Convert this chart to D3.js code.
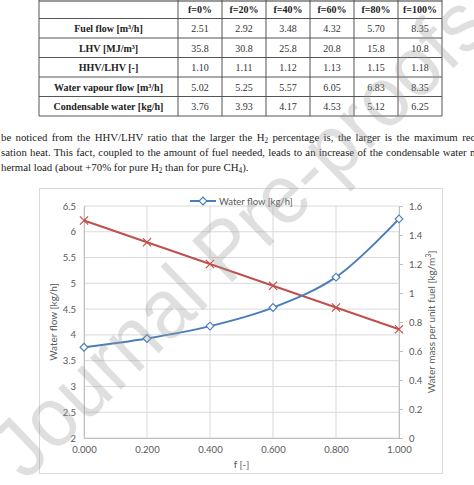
<!DOCTYPE html>
<html lang="en">
<head>
<meta charset="UTF-8">
<title>Water flow</title>
<script src="https://cdnjs.cloudflare.com/ajax/libs/d3/7.9.0/d3.min.js"></script>
<style>
  body { margin: 0; background: #fff; }
</style>
</head>
<body>
<svg id="fig" width="474" height="485"></svg>
<script>
// table data
const colLabels = ["f=0%", "f=20%", "f=40%", "f=60%", "f=80%", "f=100%"];
const rowLabels = ["Fuel flow [m³/h]", "LHV [MJ/m³]", "HHV/LHV [-]", "Water vapour flow [m³/h]", "Condensable water [kg/h]"];
const fuelFlow = [2.51, 2.92, 3.48, 4.32, 5.70, 8.35];
const lhv = [35.8, 30.8, 25.8, 20.8, 15.8, 10.8];
const hhvLhv = [1.10, 1.11, 1.12, 1.13, 1.15, 1.18];
const vapourFlow = [5.02, 5.25, 5.57, 6.05, 6.83, 8.35];
const condWater = [3.76, 3.93, 4.17, 4.53, 5.12, 6.25];

// chart data
const fValues = [0, 0.2, 0.4, 0.6, 0.8, 1.0];
const waterFlow = [3.76, 3.93, 4.17, 4.53, 5.12, 6.25];
const waterPerFuel = [1.50, 1.35, 1.20, 1.05, 0.90, 0.75];
const leftTicks = [2, 2.5, 3, 3.5, 4, 4.5, 5, 5.5, 6, 6.5];
const rightTicks = [0, 0.2, 0.4, 0.6, 0.8, 1.0, 1.2, 1.4, 1.6];

const svg = d3.select("#fig");
const serif = "'Liberation Serif', 'Times New Roman', serif";
const sans = "Lato, 'Open Sans', sans-serif";

// ---------- table ----------
const tbl = svg.append("g");
const rows = [null, fuelFlow, lhv, hhvLhv, vapourFlow, condWater];
const rowFmt = [null, ".2f", ".1f", ".2f", ".2f", ".2f"];
const ty = d3.scaleBand().domain(d3.range(rows.length)).range([-1, 116]);
const tx = d3.scaleBand().domain(d3.range(colLabels.length)).range([178, 442]);
const tLeft = 39;

tbl.append("line").attr("x1", tLeft).attr("x2", 442).attr("y1", 0.5).attr("y2", 0.5)
  .attr("stroke", "#999").attr("stroke-width", 3);

rows.forEach(function (r, i) {
  tbl.append("line")
    .attr("x1", tLeft).attr("x2", 442)
    .attr("y1", ty(i) + ty.bandwidth()).attr("y2", ty(i) + ty.bandwidth())
    .attr("stroke", "#555").attr("stroke-width", 1);
});
[tLeft].concat(d3.range(colLabels.length).map(d => tx(d)), [442]).forEach(function (x) {
  tbl.append("line").attr("x1", x).attr("x2", x).attr("y1", 0).attr("y2", 116)
    .attr("stroke", "#555").attr("stroke-width", 1);
});

tbl.selectAll("text.hdr").data(colLabels).enter().append("text")
  .attr("x", (d, i) => tx(i) + tx.bandwidth() / 2)
  .attr("y", ty(0) + ty.bandwidth() / 2 + 4)
  .attr("text-anchor", "middle").attr("font-family", serif)
  .attr("font-size", 10).attr("font-weight", "bold").attr("fill", "#222")
  .text(d => d);

rowLabels.forEach(function (lab, k) {
  const i = k + 1;
  tbl.append("text")
    .attr("x", (tLeft + 178) / 2).attr("y", ty(i) + ty.bandwidth() / 2 + 4)
    .attr("text-anchor", "middle").attr("font-family", serif)
    .attr("font-size", 10).attr("font-weight", "bold").attr("fill", "#222")
    .text(lab);
  tbl.selectAll(null).data(rows[i]).enter().append("text")
    .attr("x", (d, j) => tx(j) + tx.bandwidth() / 2)
    .attr("y", ty(i) + ty.bandwidth() / 2 + 4)
    .attr("text-anchor", "middle").attr("font-family", serif)
    .attr("font-size", 10).attr("fill", "#333")
    .text(d => d3.format(rowFmt[i])(d));
});

// ---------- paragraph (justified lines, cut at the edge) ----------
const para = svg.append("g").attr("font-family", serif).attr("font-size", 10.8).attr("fill", "#222");
function measure(str) {
  const t = para.append("text").text(str);
  const w = t.node().getComputedTextLength();
  t.remove();
  return w;
}
// anchor: prefix text whose end should land at x = anchorX
function line(y, parts, anchor, anchorX) {
  const t = para.append("text").attr("x", 1).attr("y", y);
  if (anchor) {
    const gaps = anchor.split(" ").length - 1;
    t.attr("word-spacing", Math.max(0, (anchorX - 1 - measure(anchor)) / gaps));
  }
  parts.forEach(function (p) {
    const s = t.append("tspan").text(p[0]);
    if (p[1]) s.attr("font-size", 7.2).attr("baseline-shift", "-25%");
  });
}
line(141, [["be noticed from the HHV/LHV ratio that the larger the H"], ["2", 1], [" percentage is, the larger is the maximum rec"]],
  "be noticed from the HHV/LHV ratio that the larger the ", 254);
line(156, [["sation heat. This fact, coupled to the amount of fuel needed, leads to an increase of the condensable water m"]],
  "sation heat. This fact, coupled to the amount of fuel needed, leads to an increase of the condensable ", 440);
line(171, [["hermal load (about +70% for pure H"], ["2", 1], [" than for pure CH"], ["4", 1], [")."]]);

// ---------- chart ----------
svg.append("rect").attr("x", 39.5).attr("y", 188.5).attr("width", 403).attr("height", 285)
  .attr("fill", "#fff").attr("stroke", "#d9d9d9");

const x = d3.scaleLinear().domain([0, 1]).range([84, 399]);
const yL = d3.scaleLinear().domain([2, 6.5]).range([438, 206]);
const yR = d3.scaleLinear().domain([0, 1.6]).range([438, 206]);

const chart = svg.append("g");

chart.append("g").selectAll("line").data(leftTicks).enter().append("line")
  .attr("x1", x(0)).attr("x2", x(1))
  .attr("y1", d => yL(d)).attr("y2", d => yL(d))
  .attr("stroke", "#d9d9d9");
chart.append("g").selectAll("line").data(fValues).enter().append("line")
  .attr("x1", d => x(d)).attr("x2", d => x(d))
  .attr("y1", yL(2)).attr("y2", yL(6.5))
  .attr("stroke", "#d9d9d9");

const gx = chart.append("g").attr("transform", `translate(0,${yL(2)})`)
  .call(d3.axisBottom(x).tickValues(fValues).tickFormat(d3.format(".3f")).tickSize(0).tickPadding(8));
const gl = chart.append("g").attr("transform", `translate(${x(0)},0)`)
  .call(d3.axisLeft(yL).tickValues(leftTicks).tickFormat(d3.format("")).tickSize(0).tickPadding(8));
const gr = chart.append("g").attr("transform", `translate(${x(1)},0)`)
  .call(d3.axisRight(yR).tickValues(rightTicks).tickFormat(d3.format("")).tickSize(4).tickPadding(6));

[gx, gl, gr].forEach(function (g) {
  g.select(".domain").attr("stroke", "#bfbfbf");
  g.selectAll(".tick line").attr("stroke", "#bfbfbf");
  g.selectAll("text").attr("font-family", sans).attr("font-size", 9.5).attr("fill", "#595959");
});

// red series (secondary axis)
chart.append("path").datum(fValues)
  .attr("fill", "none").attr("stroke", "#c0504d").attr("stroke-width", 2)
  .attr("d", d3.line().x(d => x(d)).y((d, i) => yR(waterPerFuel[i])));
const cross = d3.symbol().type(d3.symbolTimes).size(45);
chart.append("g").selectAll("path").data(fValues).enter().append("path")
  .attr("transform", (d, i) => `translate(${x(d)},${yR(waterPerFuel[i])})`)
  .attr("d", cross).attr("fill", "none").attr("stroke", "#c0504d").attr("stroke-width", 1.2);

// blue series (primary axis)
chart.append("path").datum(fValues)
  .attr("fill", "none").attr("stroke", "#4a7ebb").attr("stroke-width", 2)
  .attr("d", d3.line().curve(d3.curveCatmullRom.alpha(0.5)).x(d => x(d)).y((d, i) => yL(waterFlow[i])));
const diamond = d3.symbol().type(d3.symbolSquare).size(30);
chart.append("g").selectAll("path").data(fValues).enter().append("path")
  .attr("transform", (d, i) => `translate(${x(d)},${yL(waterFlow[i])}) rotate(45)`)
  .attr("d", diamond).attr("fill", "#fff").attr("stroke", "#4a7ebb").attr("stroke-width", 1.2);

// legend
const lg = chart.append("g").attr("transform", "translate(190,201)");
lg.append("line").attr("x1", 0).attr("x2", 26).attr("stroke", "#4a7ebb").attr("stroke-width", 2);
lg.append("path").attr("transform", "translate(13,0) rotate(45)").attr("d", diamond)
  .attr("fill", "#fff").attr("stroke", "#4a7ebb").attr("stroke-width", 1.2);
lg.append("text").attr("x", 29).attr("y", 3.5).attr("font-family", sans).attr("font-size", 9.5)
  .attr("fill", "#595959").text("Water flow [kg/h]");

// axis titles
chart.append("text").attr("x", (x(0) + x(1)) / 2).attr("y", 468).attr("text-anchor", "middle")
  .attr("font-family", sans).attr("font-size", 10).attr("fill", "#595959").text("f [-]");
chart.append("text").attr("transform", `translate(57,${(yL(2) + yL(6.5)) / 2}) rotate(-90)`)
  .attr("text-anchor", "middle").attr("font-family", sans).attr("font-size", 10).attr("fill", "#595959")
  .text("Water flow [kg/h]");
const rt = chart.append("text").attr("transform", `translate(435,${(yL(2) + yL(6.5)) / 2}) rotate(-90)`)
  .attr("text-anchor", "middle").attr("font-family", sans).attr("font-size", 10).attr("fill", "#595959");
rt.append("tspan").text("Water mass per unit fuel [kg/m");
rt.append("tspan").attr("font-size", 7).attr("baseline-shift", "super").text("3");
rt.append("tspan").text("]");

// watermark
svg.append("text")
  .attr("transform", "translate(6,462) rotate(-44)")
  .attr("dy", "0.33em")
  .attr("textLength", 650).attr("lengthAdjust", "spacingAndGlyphs")
  .attr("font-family", "'Liberation Sans', Arial, sans-serif").attr("font-size", 84)
  .attr("fill", "#9a9a9a").attr("fill-opacity", 0.32)
  .text("Journal Pre-proofs");
</script>
</body>
</html>
